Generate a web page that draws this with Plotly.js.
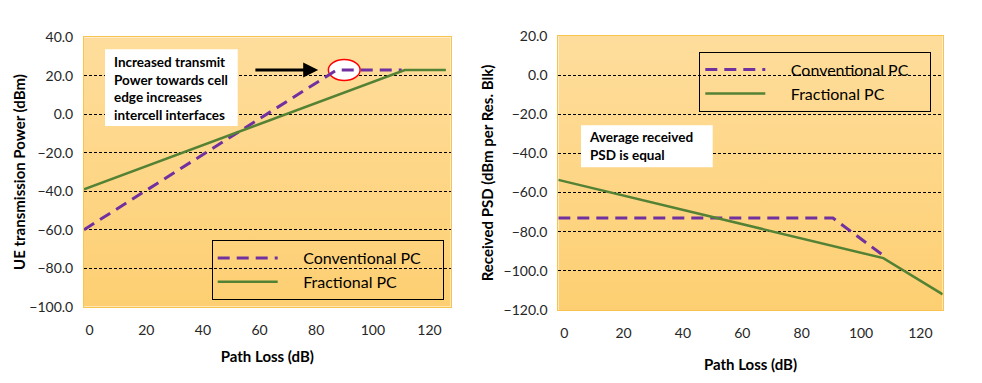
<!DOCTYPE html>
<html>
<head>
<meta charset="utf-8">
<script src="https://cdn.plot.ly/plotly-3.0.1.min.js"></script>
<style>html,body{margin:0;padding:0;background:#fff;}#chart{width:982px;height:383px;}</style>
</head>
<body>
<div id="chart"></div>
<script>
// ---- data ----
const seriesNames = ['Conventional PC', 'Fractional PC'];
// Left chart: UE transmission power (dBm) vs path loss (dB)
const txConvPathLoss = [-2, 87.2, 110.2];
const txConvPower    = [-60, 23, 23];
const txFracPathLoss = [-2, 111.3, 125.8];
const txFracPower    = [-39, 23, 23];
// Right chart: received PSD (dBm per Res. Blk) vs path loss (dB)
const psdConvPathLoss = [-2, 90.5, 107.8];
const psdConvValue    = [-73, -73, -92.5];
const psdFracPathLoss = [-2, 107.5, 127.5];
const psdFracValue    = [-53.5, -93.5, -112];

const leftNote  = ['Increased transmit', 'Power towards cell', 'edge increases', 'intercell interfaces'];
const rightNote = ['Average received', 'PSD is equal'];
const xTitle = 'Path Loss (dB)';
const yTitleLeft = 'UE transmission Power (dBm)';
const yTitleRight = 'Received PSD (dBm per Res. Blk)';

// ---- layout ----
const W = 982, H = 383;
const xDomL = [84 / W, 450.7 / W], yDomL = [1 - 306.7 / H, 1 - 37.3 / H];
const xDomR = [558.3 / W, 942.7 / W], yDomR = [1 - 310 / H, 1 - 36 / H];
const purple = '#7030A0', green = '#548235';
const FONT = 'Lato, "Open Sans", sans-serif';
const NB = '\u00a0';
const padName = s => NB.repeat(5) + s + NB.repeat(4);

const convLine = {color: purple, width: 3, dash: '12px,7px'};
const fracLine = {color: green, width: 2.5};

const traces = [
  {x: txConvPathLoss, y: txConvPower, name: padName(seriesNames[0]), mode: 'lines', line: convLine, xaxis: 'x', yaxis: 'y', legend: 'legend'},
  {x: txFracPathLoss, y: txFracPower, name: padName(seriesNames[1]), mode: 'lines', line: fracLine, xaxis: 'x', yaxis: 'y', legend: 'legend'},
  {x: psdConvPathLoss, y: psdConvValue, name: padName(seriesNames[0]), mode: 'lines', line: convLine, xaxis: 'x2', yaxis: 'y2', legend: 'legend2'},
  {x: psdFracPathLoss, y: psdFracValue, name: padName(seriesNames[1]), mode: 'lines', line: fracLine, xaxis: 'x2', yaxis: 'y2', legend: 'legend2'}
];

const gradSvg = '<svg xmlns="http://www.w3.org/2000/svg" width="10" height="100" viewBox="0 0 10 100" preserveAspectRatio="none">' +
  '<defs><linearGradient id="g" x1="0" y1="0" x2="0" y2="1"><stop offset="0" stop-color="#FEDD9C"/><stop offset="1" stop-color="#FDCF72"/></linearGradient></defs>' +
  '<rect width="10" height="100" fill="url(#g)"/></svg>';
const gradSrc = 'data:image/svg+xml;charset=utf-8,' + encodeURIComponent(gradSvg);

function bgImage(xd, yd) {
  return {source: gradSrc, xref: 'paper', yref: 'paper', x: xd[0], y: yd[1], sizex: xd[1] - xd[0], sizey: yd[1] - yd[0],
          xanchor: 'left', yanchor: 'top', sizing: 'stretch', layer: 'below'};
}

const tickFont = {family: FONT, size: 14, color: '#262626'};
const borderColor = '#F7C450';
function xAxis(dom, standoff) {
  return {domain: dom, range: [-2, 127.5], tick0: 0, dtick: 20, showgrid: false, zeroline: false,
          showline: true, mirror: true, linecolor: borderColor, linewidth: 1, ticks: '', ticklabelstandoff: 10,
          tickfont: tickFont, title: {text: '<b>' + xTitle + '</b>', font: {family: FONT, size: 15, color: '#000'}, standoff: standoff}};
}
function yAxis(dom, range, title, standoff) {
  return {domain: dom, range: range, tick0: 0, dtick: 20, tickformat: '.1f', showgrid: true, gridcolor: '#000', gridwidth: 1,
          griddash: '3px,2px', zeroline: false, showline: true, mirror: true, linecolor: borderColor, linewidth: 1,
          ticks: '', ticklabelstandoff: 7, tickfont: tickFont,
          title: {text: '<b>' + title + '</b>', font: {family: FONT, size: 15, color: '#000'}, standoff: standoff}};
}
function legendBox(x, y) {
  return {x: x, y: y, xanchor: 'left', yanchor: 'top', bgcolor: 'rgba(0,0,0,0)', bordercolor: '#000', borderwidth: 1,
          font: {family: FONT, size: 16, color: '#000'}, itemwidth: 60, tracegroupgap: 0};
}
function whiteBox(x0, y0, x1, y1) {
  return {type: 'rect', xref: 'paper', yref: 'paper', x0: x0 / W, x1: x1 / W, y0: 1 - y1 / H, y1: 1 - y0 / H,
          line: {width: 0}, fillcolor: '#FFFFFF', layer: 'above'};
}

const layout = {
  width: W, height: H, margin: {l: 0, r: 0, t: 0, b: 0},
  paper_bgcolor: '#fff', plot_bgcolor: 'rgba(0,0,0,0)',
  font: {family: FONT, color: '#000'},
  showlegend: true,
  xaxis: xAxis(xDomL, 14), yaxis: yAxis(yDomL, [-100, 40], yTitleLeft, 0),
  xaxis2: Object.assign(xAxis(xDomR, 19), {anchor: 'y2'}), yaxis2: Object.assign(yAxis(yDomR, [-120, 20], yTitleRight, 6), {anchor: 'x2'}),
  legend: legendBox(211.7 / W, 1 - 240 / H),
  legend2: legendBox(699.3 / W, 1 - 51.7 / H),
  images: [bgImage(xDomL, yDomL), bgImage(xDomR, yDomR)],
  shapes: [
    {type: 'circle', xref: 'x', yref: 'y', x0: 84.3, x1: 95.5, y0: 17.6, y1: 28.4,
     line: {color: '#FF0000', width: 1.5}, fillcolor: '#FFFFFF', layer: 'between'},
    whiteBox(105, 49.3, 237.7, 126),
    whiteBox(581, 125.3, 712.7, 167.3)
  ],
  annotations: [
    {xref: 'paper', yref: 'paper', x: 113 / W, y: 1 - 53 / H, xanchor: 'left', yanchor: 'top',
     text: '<b>' + leftNote.join('<br>') + '</b>', showarrow: false, align: 'left',
     borderpad: 0, font: {family: FONT, size: 13.5, color: '#000'}},
    {xref: 'x', yref: 'y', x: 80.7, y: 23, axref: 'x', ayref: 'y', ax: 58, ay: 23, text: '', showarrow: true,
     arrowhead: 2, arrowsize: 1, arrowwidth: 3, arrowcolor: '#000'},
    {xref: 'paper', yref: 'paper', x: 588 / W, y: 1 - 128.5 / H, xanchor: 'left', yanchor: 'top',
     text: '<b>' + rightNote.join('<br>') + '</b>', showarrow: false, align: 'left',
     borderpad: 0, font: {family: FONT, size: 13.5, color: '#000'}}
  ]
};

Plotly.newPlot('chart', traces, layout, {displayModeBar: false, staticPlot: true});
</script>
</body>
</html>
